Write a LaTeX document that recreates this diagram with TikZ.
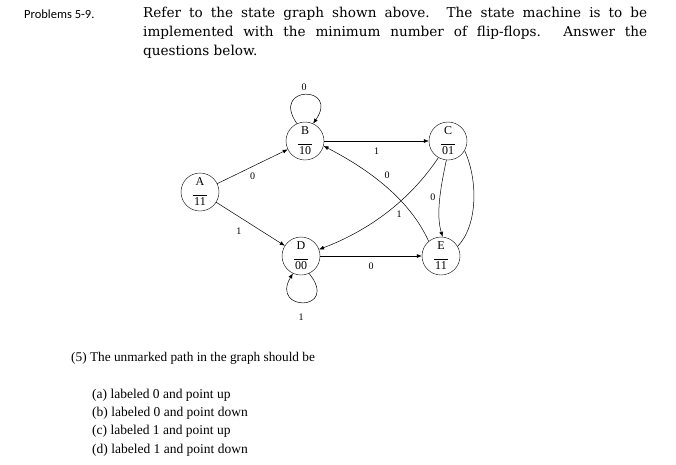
\documentclass[tikz,border=0pt]{standalone}
\usepackage{fontspec}
\setmainfont{Liberation Serif}
\newfontfamily\hdr{Carlito}
\newfontfamily\body{DejaVu Serif}
\usetikzlibrary{arrows.meta}
\newcommand{\stl}[2]{#1\\[-2pt]\rule{14pt}{0.5pt}\\[-2pt]#2}
\begin{document}
\begin{tikzpicture}[x=1pt,y=-1pt,
  st/.style={circle,draw,minimum size=38pt,inner sep=0pt,font=\fontsize{12}{12}\selectfont,align=center},
  lb/.style={font=\fontsize{10}{10}\selectfont},
  ar/.style={-{Latex[length=5pt,width=4pt]},line width=0.5pt},
  txt/.style={anchor=west,inner sep=0pt,font=\fontsize{13.3}{14}\selectfont},
  bd/.style={anchor=west,inner sep=0pt,font=\body\fontsize{13.6}{15}\selectfont}]
\useasboundingbox (0,0) rectangle (676,464);
\node[anchor=west,inner sep=0pt,font=\hdr\fontsize{12.5}{14}\selectfont] (p) at (24,14) {Problems 5-9.};
\node[bd] (l1) at (143,14) {\makebox[504pt][s]{Refer to the state graph shown above. The state machine is to be}};
\node[bd] (l2) at (143,33) {\makebox[504pt][s]{implemented with the minimum number of flip-flops. Answer the}};
\node[bd] (l3) at (143,52) {questions below.};

\node[st] (A) at (200,192) {\stl{A}{11}};
\node[st] (B) at (305,141) {\stl{B}{10}};
\node[st] (C) at (448,141) {\stl{C}{01}};
\node[st] (D) at (301,256) {\stl{D}{00}};
\node[st] (E) at (441,256) {\stl{E}{11}};

\draw[ar] (B.115) .. controls (270,85) and (340,85) .. (B.65);
\node[lb] (l0b) at (304,87) {0};
\draw[ar] (D.295) .. controls (340,312) and (270,312) .. (D.245);
\node[lb] (l1d) at (301,317) {1};
\draw[ar] (A) -- (B) node[lb,pos=0.5,below=3pt] {0};
\draw[ar] (A) -- (D) node[lb,pos=0.45,below left=2pt] {1};
\draw[ar] (B) -- (C) node[lb,pos=0.5,below=3pt] {1};
\draw[ar] (D) -- (E) node[lb,pos=0.5,below=3pt] {0};
\draw[ar] (E.130) .. controls (410,200) and (370,170) .. (B.-15) node[lb,pos=0.55,above right=0pt] {0};
\draw[ar] (C.240) .. controls (410,200) and (370,230) .. (D.20) node[lb,pos=0.45,below right=0pt] {1};
\draw[ar] (C.265) .. controls (440,190) and (436,215) .. (E.85) node[lb,pos=0.45,left=1pt] {0};
\draw[line width=0.5pt] (C.-30) .. controls (478,180) and (478,225) .. (E.30);

\node[txt] (q) at (71,358) {(5) The unmarked path in the graph should be};
\node[txt,font=\fontsize{13.5}{14}\selectfont] (a) at (92,395) {(a) labeled 0 and point up};
\node[txt,font=\fontsize{13.5}{14}\selectfont] (b) at (92,413) {(b) labeled 0 and point down};
\node[txt,font=\fontsize{13.5}{14}\selectfont] (c) at (92,431) {(c) labeled 1 and point up};
\node[txt,font=\fontsize{13.5}{14}\selectfont] (d) at (92,450) {(d) labeled 1 and point down};
\end{tikzpicture}
\end{document}
